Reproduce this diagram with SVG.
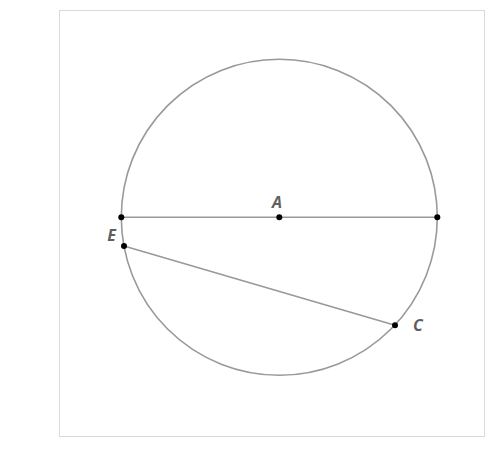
<svg xmlns="http://www.w3.org/2000/svg" width="500" height="450" viewBox="0 0 500 450">
<style>
.frame{fill:#fff;stroke:#d9d9d9;stroke-width:1}
.geo{fill:none;stroke:#999;stroke-width:1.6}
.pt{fill:#000}
.lbl{font-family:"Open Sans","DejaVu Sans",sans-serif;font-weight:bold;font-style:italic;font-size:16px;fill:#5f5f5f}
</style>
<rect width="500" height="450" fill="#fff"/>
<rect class="frame" x="59.5" y="10.5" width="425" height="426"/>
<g id="circle"><circle class="geo" cx="279.3" cy="217.3" r="158"/></g>
<g id="connectors">
<line class="geo" x1="121.3" y1="217.3" x2="437.3" y2="217.3"/>
<line class="geo" x1="124" y1="246" x2="395" y2="325.3"/>
</g>
<g id="A"><circle class="pt" cx="279.3" cy="217.3" r="3"/><text class="lbl" x="277" y="208" text-anchor="middle">A</text></g>
<g id="B"><circle class="pt" cx="121.3" cy="217.3" r="3"/></g>
<g id="D"><circle class="pt" cx="437.3" cy="217.3" r="3"/></g>
<g id="E"><circle class="pt" cx="124" cy="246" r="3"/><text class="lbl" x="111.5" y="241" text-anchor="middle">E</text></g>
<g id="C"><circle class="pt" cx="395" cy="325.3" r="3"/><text class="lbl" x="418" y="330.5" text-anchor="middle">C</text></g>
</svg>
